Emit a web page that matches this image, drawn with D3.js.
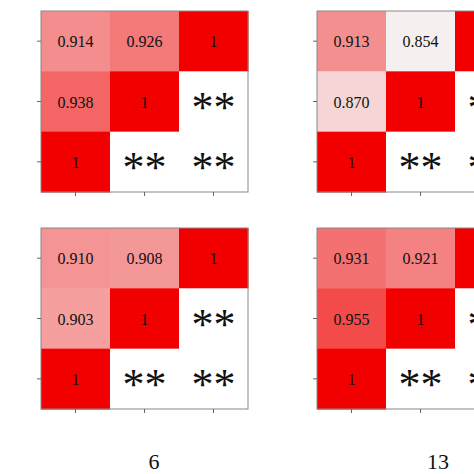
<!DOCTYPE html><html><head><script src="https://cdn.jsdelivr.net/npm/d3@7"></script>
<style>body{margin:0;background:#fff}</style></head><body><svg id="c" width="474" height="474"></svg>
<script>
// matrices: rows top->bottom, cols left->right; null = "**"
const panelA = [[0.914,0.926,1],[0.938,1,null],[1,null,null]];
const panelB = [[0.913,0.854,1],[0.870,1,null],[1,null,null]];
const panelC = [[0.910,0.908,1],[0.903,1,null],[1,null,null]];
const panelD = [[0.931,0.921,1],[0.955,1,null],[1,null,null]];
const bottomLabels = ["6","13"];
const panels = [
 {m:panelA,x:41,y:11},{m:panelB,x:317,y:11},
 {m:panelC,x:41,y:228},{m:panelD,x:317,y:228}];
const svg=d3.select("#c");
const color=d3.scaleLinear().domain([0.85,1]).range(["#f6f6f6","#f20000"]).clamp(true);
const W=207,H=181;
panels.forEach(p=>{
 const g=svg.append("g").attr("transform",`translate(${p.x},${p.y})`);
 const xs=d3.scaleBand().domain([0,1,2]).range([0,W]);
 const ys=d3.scaleBand().domain([0,1,2]).range([0,H]);
 p.m.forEach((row,r)=>row.forEach((v,c)=>{
  g.append("rect").attr("x",xs(c)).attr("y",ys(r)).attr("width",xs.bandwidth()+0.5).attr("height",ys.bandwidth()+0.5)
   .attr("fill",v==null?"#fff":color(v));
  const t=g.append("text").attr("x",xs(c)+xs.bandwidth()/2).attr("text-anchor","middle")
   .attr("font-family","Liberation Serif, Times New Roman, serif").attr("fill","#111");
  if(v==null) t.attr("y",ys(r)+ys.bandwidth()/2+20).attr("font-size",44).text("**");
  else t.attr("y",ys(r)+ys.bandwidth()/2+6).attr("font-size",16).text(v===1?"1":v.toFixed(3));
 }));
 g.append("rect").attr("width",W).attr("height",H).attr("fill","none").attr("stroke","#888").attr("stroke-width",1);
 const xa=g.append("g").attr("transform",`translate(0,${H})`).call(d3.axisBottom(xs).tickSize(4).tickFormat(""));
 const ya=g.append("g").call(d3.axisLeft(ys).tickSize(4).tickFormat(""));
 [xa,ya].forEach(a=>{a.select(".domain").remove();a.selectAll("line").attr("stroke","#666");});
});
svg.selectAll("text.lab").data(bottomLabels).join("text").attr("class","lab")
 .attr("x",(d,i)=>[154,438][i]).attr("y",469).attr("text-anchor","middle")
 .attr("font-family","Liberation Serif, Times New Roman, serif").attr("font-size",22).attr("fill","#111").text(d=>d);
</script></body></html>
